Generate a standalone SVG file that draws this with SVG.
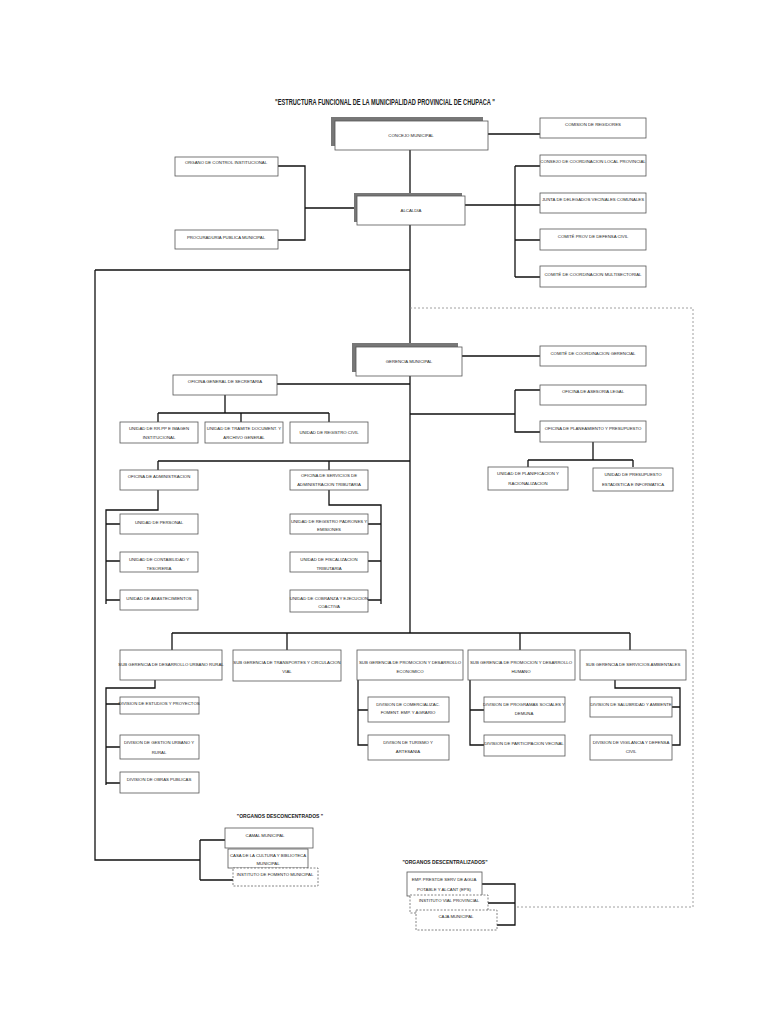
<svg xmlns="http://www.w3.org/2000/svg" width="768" height="1024" viewBox="0 0 768 1024">
<style>
.b{fill:#fff;stroke:#555;stroke-width:0.8}
.d{fill:#fff;stroke:#666;stroke-width:0.8;stroke-dasharray:2 1.5}
.s{fill:#777}
.c{fill:none;stroke:#111;stroke-width:1.3}
.dl{fill:none;stroke:#888;stroke-width:0.8;stroke-dasharray:2 2}
text{font-family:"Liberation Sans",Arial,sans-serif;font-size:4.3px;fill:#222;text-anchor:middle}
.t{font-size:9px;font-weight:bold}
.h{font-size:5px;font-weight:bold}
</style>
<rect width="768" height="1024" fill="#fff"/>
<text class="t" x="385" y="105" textLength="220" lengthAdjust="spacingAndGlyphs">"ESTRUCTURA FUNCIONAL DE LA MUNICIPALIDAD PROVINCIAL DE CHUPACA "</text>
<g id="connectors">
<path class="c" d="M488 134H540M410 150V633M278 166H305V240H278M305 208H355M465 205H515M515 166V277M515 166H540M515 205H540M515 240H540M515 277H540M95 270H410M95 270V860H200M200 840V880M200 840H225M200 880H233"/>
<path class="dl" d="M410 308H693V907H515"/>
<path class="c" d="M462 356H540M277 384H410M225 395V413M158 413H329M158 413V422M241 413V422M329 413V422M410 414H515M515 390V432H540M515 390H540M593 442V460M528 460H633M528 460V467M633 460V467M158 461H410M158 461V470M329 461V470M158 490V510H106V604M106 524H120M106 561H120M106 600H120M329 490V505H381V604M368 524H381M368 561H381M368 600H381"/>
<path class="c" d="M172 633H630M172 633V650M287 633V650M520 633V650M630 633V650M155 680V688H106V785M106 704H120M106 747H120M106 783H120M358 680V745H368M358 710H368M470 680V745H484M470 710H484M615 680V688H680V745H672M672 707H680"/>
<path class="c" d="M482 884H515V925H497M488 903H515"/>
</g>
<g id="concejo"><rect class="s" x="331" y="117" width="152" height="29"/><rect class="b" x="335" y="121" width="153" height="29"/><text x="411" y="137">CONCEJO MUNICIPAL</text></g>
<g id="comision"><rect class="b" x="540" y="118" width="106" height="20"/><text x="593" y="126">COMISION DE REGIDORES</text></g>
<g id="control"><rect class="b" x="175" y="157" width="103" height="19"/><text x="226" y="164">ORGANO DE CONTROL INSTITUCIONAL</text></g>
<g id="procuraduria"><rect class="b" x="175" y="230" width="103" height="19"/><text x="226" y="239">PROCURADURIA PUBLICA MUNICIPAL</text></g>
<g id="alcaldia"><rect class="s" x="354" y="193" width="108" height="29"/><rect class="b" x="357" y="196" width="108" height="29"/><text x="411" y="212">ALCALDIA</text></g>
<g id="consejo"><rect class="b" x="540" y="155" width="106" height="21"/><text x="593" y="163">CONSEJO DE COORDINACION LOCAL PROVINCIAL</text></g>
<g id="junta"><rect class="b" x="540" y="193" width="106" height="20"/><text x="593" y="201">JUNTA DE DELEGADOS VECINALES COMUNALES</text></g>
<g id="defensa"><rect class="b" x="540" y="229" width="106" height="21"/><text x="593" y="238">COMITÉ PROV DE DEFENSA CIVIL</text></g>
<g id="multisectorial"><rect class="b" x="540" y="266" width="106" height="21"/><text x="593" y="276">COMITÉ DE COORDINACION MULTISECTORIAL</text></g>
<g id="gerencia"><rect class="s" x="352" y="343" width="106" height="29"/><rect class="b" x="356" y="347" width="106" height="29"/><text x="409" y="363">GERENCIA MUNICIPAL</text></g>
<g id="cgerencial"><rect class="b" x="540" y="346" width="106" height="20"/><text x="593" y="355">COMITÉ DE COORDINACION GERENCIAL</text></g>
<g id="secretaria"><rect class="b" x="173" y="375" width="104" height="20"/><text x="225" y="383">OFICINA GENERAL DE SECRETARIA</text></g>
<g id="rrpp"><rect class="b" x="120" y="422" width="78" height="21"/><text x="159" y="430">UNIDAD DE RR.PP E IMAGEN</text><text x="159" y="439">INSTITUCIONAL</text></g>
<g id="tramite"><rect class="b" x="205" y="422" width="78" height="21"/><text x="244" y="430">UNIDAD DE TRAMITE DOCUMENT. Y</text><text x="244" y="439">ARCHIVO GENERAL</text></g>
<g id="registrocivil"><rect class="b" x="290" y="422" width="78" height="21"/><text x="329" y="434">UNIDAD DE REGISTRO CIVIL</text></g>
<g id="asesoria"><rect class="b" x="540" y="385" width="106" height="20"/><text x="593" y="393">OFICINA DE ASESORIA LEGAL</text></g>
<g id="planeamiento"><rect class="b" x="540" y="421" width="106" height="21"/><text x="593" y="430">OFICINA DE PLANEAMIENTO Y PRESUPUESTO</text></g>
<g id="planificacion"><rect class="b" x="488" y="467" width="80" height="23"/><text x="528" y="475">UNIDAD DE PLANIFICACION Y</text><text x="528" y="485">RACIONALIZACION</text></g>
<g id="presupuesto"><rect class="b" x="593" y="468" width="80" height="23"/><text x="633" y="476">UNIDAD DE PRESUPUESTO</text><text x="633" y="486">ESTADISTICA E INFORMATICA</text></g>
<g id="administracion"><rect class="b" x="120" y="470" width="78" height="20"/><text x="159" y="478">OFICINA DE ADMINISTRACION</text></g>
<g id="servicios"><rect class="b" x="290" y="470" width="78" height="20"/><text x="329" y="477">OFICINA DE SERVICIOS DE</text><text x="329" y="486">ADMINISTRACION TRIBUTARIA</text></g>
<g id="personal"><rect class="b" x="120" y="514" width="78" height="20"/><text x="159" y="524">UNIDAD DE PERSONAL</text></g>
<g id="contabilidad"><rect class="b" x="120" y="552" width="78" height="20"/><text x="159" y="561">UNIDAD DE CONTABILIDAD Y</text><text x="159" y="570">TESORERIA</text></g>
<g id="abastecimientos"><rect class="b" x="120" y="590" width="78" height="20"/><text x="159" y="600">UNIDAD DE ABASTECIMIENTOS</text></g>
<g id="padrones"><rect class="b" x="290" y="514" width="78" height="20"/><text x="329" y="523">UNIDAD DE REGISTRO PADRONES Y</text><text x="329" y="531">EMISIONES</text></g>
<g id="fiscalizacion"><rect class="b" x="290" y="552" width="78" height="20"/><text x="329" y="561">UNIDAD DE FISCALIZACION</text><text x="329" y="570">TRIBUTARIA</text></g>
<g id="cobranza"><rect class="b" x="290" y="590" width="78" height="22"/><text x="329" y="600">UNIDAD DE COBRANZA Y EJECUCION</text><text x="329" y="608">COACTIVA</text></g>
<g id="sg1"><rect class="b" x="120" y="650" width="102" height="30"/><text x="171" y="666">SUB GERENCIA DE DESARROLLO URBANO RURAL</text></g>
<g id="sg2"><rect class="b" x="233" y="650" width="108" height="31"/><text x="287" y="664">SUB GERENCIA DE TRANSPORTES Y CIRCULACION</text><text x="287" y="673">VIAL</text></g>
<g id="sg3"><rect class="b" x="357" y="650" width="106" height="30"/><text x="410" y="664">SUB GERENCIA DE PROMOCION Y DESARROLLO</text><text x="410" y="673">ECONOMICO</text></g>
<g id="sg4"><rect class="b" x="468" y="650" width="107" height="30"/><text x="521" y="664">SUB GERENCIA DE PROMOCION Y DESARROLLO</text><text x="521" y="673">HUMANO</text></g>
<g id="sg5"><rect class="b" x="580" y="650" width="106" height="30"/><text x="633" y="666">SUB GERENCIA DE SERVICIOS AMBIENTALES</text></g>
<g id="estudios"><rect class="b" x="120" y="697" width="79" height="17"/><text x="159" y="705">DIVISION  DE ESTUDIOS Y PROYECTOS</text></g>
<g id="gestion"><rect class="b" x="120" y="735" width="79" height="24"/><text x="159" y="744">DIVISION DE GESTION URBANO Y</text><text x="159" y="754">RURAL</text></g>
<g id="obras"><rect class="b" x="120" y="772" width="79" height="21"/><text x="159" y="781">DIVISION DE OBRAS PUBLICAS</text></g>
<g id="comercializ"><rect class="b" x="368" y="697" width="81" height="25"/><text x="408" y="706">DIVISION DE COMERCIALIZAC.</text><text x="408" y="714">FOMENT. EMP. Y AGRARIO</text></g>
<g id="turismo"><rect class="b" x="368" y="735" width="81" height="25"/><text x="408" y="744">DIVISON DE TURISMO Y</text><text x="408" y="753">ARTESANIA</text></g>
<g id="programas"><rect class="b" x="484" y="697" width="81" height="25"/><text x="524" y="706">DIVISION DE PROGRAMAS SOCIALES Y</text><text x="524" y="715">DEMUNA</text></g>
<g id="participacion"><rect class="b" x="484" y="735" width="81" height="21"/><text x="524" y="745">DIVISION DE PARTICIPACION VECINAL</text></g>
<g id="salubridad"><rect class="b" x="590" y="697" width="82" height="20"/><text x="631" y="706">DIVISION DE SALUBRIDAD Y AMBIENTE</text></g>
<g id="vigilancia"><rect class="b" x="590" y="735" width="82" height="25"/><text x="631" y="744">DIVISION DE VIGILANCIA Y DEFENSA</text><text x="631" y="753">CIVIL</text></g>
<text class="h" x="280" y="818">"ORGANOS DESCONCENTRADOS "</text>
<g id="camal"><rect class="b" x="225" y="828" width="88" height="20"/><text x="265" y="837">CAMAL MUNICIPAL</text></g>
<g id="casa"><rect class="b" x="228" y="849" width="80" height="19"/><text x="268" y="857">CASA DE LA CULTURA Y BIBLIOTECA</text><text x="268" y="865">MUNICIPAL</text></g>
<g id="fomento"><rect class="d" x="233" y="868" width="85" height="18"/><text x="275" y="876">INSTITUTO DE FOMENTO MUNICIPAL</text></g>
<text class="h" x="445" y="864">"ORGANOS DESCENTRALIZADOS"</text>
<g id="emp"><rect class="b" x="407" y="872" width="75" height="24"/><text x="444" y="881">EMP. PRESTDE SERV DE AGUA</text><text x="444" y="891">POTABLE Y ALCANT (EPS)</text></g>
<g id="vial"><rect class="d" x="410" y="895" width="78" height="18"/><text x="449" y="902">INSTITUTO VIAL PROVINCIAL</text></g>
<g id="caja"><rect class="d" x="416" y="910" width="81" height="20"/><text x="456" y="918">CAJA MUNICIPAL</text></g>
</svg>
